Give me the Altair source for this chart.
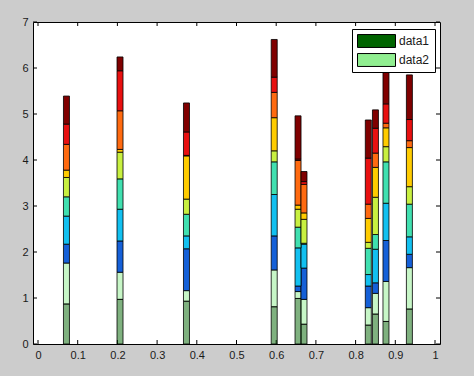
import altair as alt
import pandas as pd

# Bar positions (x) and stacked segment heights per series
positions = [0.0717, 0.2066, 0.374, 0.595, 0.655, 0.670, 0.832, 0.850, 0.8765, 0.9355]

s1  = [0.87, 0.97, 0.93, 0.81, 0.99, 0.43, 0.41, 0.65, 0.49, 0.76]
s2  = [0.89, 0.59, 0.23, 0.80, 0.15, 0.54, 0.38, 0.45, 0.87, 0.90]
s3  = [0.41, 0.68, 0.91, 0.74, 0.12, 0.68, 0.47, 0.23, 0.89, 0.29]
s4  = [0.61, 0.69, 0.28, 0.90, 0.83, 0.52, 0.25, 0.73, 0.81, 0.38]
s5  = [0.42, 0.66, 0.47, 0.71, 0.45, 0.02, 0.57, 0.32, 0.90, 0.71]
s6  = [0.42, 0.58, 0.33, 0.24, 0.39, 0.52, 0.13, 0.81, 0.33, 0.38]
s7  = [0.16, 0.06, 0.94, 0.72, 0.09, 0.14, 0.52, 0.65, 0.41, 0.85]
s8  = [0.56, 0.84, 0.01, 0.55, 0.97, 0.62, 0.31, 0.31, 0.10, 0.15]
s9  = [0.44, 0.87, 0.51, 0.33, 0.03, 0.06, 1.00, 0.54, 0.42, 0.46]
s10 = [0.61, 0.30, 0.63, 0.82, 0.94, 0.22, 0.83, 0.40, 0.75, 0.97]

series_values = [s1, s2, s3, s4, s5, s6, s7, s8, s9, s10]
series_names = ["data%d" % (i + 1) for i in range(10)]
series_colors = ["#006400", "#90ee90", "#1560d8", "#12c0f0", "#40e0b0",
                 "#c8f040", "#ffcc00", "#ff6a10", "#e81010", "#800000"]

x_ticks = [0, 0.1, 0.2, 0.3, 0.4, 0.5, 0.6, 0.7, 0.8, 0.9, 1]
y_ticks = [0, 1, 2, 3, 4, 5, 6, 7]

rows = []
for k, (name, vals) in enumerate(zip(series_names, series_values)):
    for p, v in zip(positions, vals):
        rows.append({"pos": p, "val": v, "series": name, "idx": k})
df = pd.DataFrame(rows)

W, H = 407, 322
TL = 4
font = "Liberation Sans"

xscale = alt.Scale(domain=[0, 1], nice=False, zero=False)
yscale = alt.Scale(domain=[0, 7], nice=False, zero=False)

xaxis = alt.Axis(title=None, values=x_ticks, format="~g", ticks=False,
                 domain=False, grid=False, labelPadding=5,
                 labelFontSize=11, labelFont=font, labelColor="#1a1a1a")
yaxis = alt.Axis(title=None, values=y_ticks, format="d", ticks=False,
                 domain=False, grid=False, labelPadding=5,
                 labelFontSize=11, labelFont=font, labelColor="#1a1a1a")

bars = alt.Chart(df).mark_bar(size=6, stroke="black", strokeWidth=0.8).encode(
    x=alt.X("pos:Q", scale=xscale, axis=xaxis),
    y=alt.Y("val:Q", stack="zero", scale=yscale, axis=yaxis),
    color=alt.Color("series:N",
                    scale=alt.Scale(domain=series_names, range=series_colors),
                    legend=alt.Legend(title=None, values=["data1", "data2"],
                                      orient="none", legendX=319, legendY=7,
                                      symbolType="M-1,-0.34L1,-0.34L1,0.34L-1,0.34Z",
                                      symbolSize=1444, clipHeight=14,
                                      symbolStrokeColor="black", symbolStrokeWidth=1,
                                      symbolOpacity=1,
                                      labelFont=font, labelFontSize=12, labelColor="#1a1a1a",
                                      labelOffset=3, padding=5, rowPadding=5,
                                      strokeColor="black", fillColor="white")),
    order=alt.Order("idx:Q", sort="ascending"),
    fillOpacity=alt.condition("datum.series == 'data1' || datum.series == 'data2'",
                              alt.value(0.5), alt.value(1)),
)

xt = pd.DataFrame({"pos": x_ticks})
yt = pd.DataFrame({"val": y_ticks})

bottom_ticks = alt.Chart(xt).mark_rule(color="black", strokeWidth=1).encode(
    x=alt.X("pos:Q", scale=xscale, axis=xaxis), y=alt.value(H), y2=alt.value(H - TL))
top_ticks = alt.Chart(xt).mark_rule(color="black", strokeWidth=1).encode(
    x=alt.X("pos:Q", scale=xscale, axis=xaxis), y=alt.value(0), y2=alt.value(TL))
left_ticks = alt.Chart(yt).mark_rule(color="black", strokeWidth=1).encode(
    y=alt.Y("val:Q", scale=yscale, axis=yaxis), x=alt.value(0), x2=alt.value(TL))
right_ticks = alt.Chart(yt).mark_rule(color="black", strokeWidth=1).encode(
    y=alt.Y("val:Q", scale=yscale, axis=yaxis), x=alt.value(W), x2=alt.value(W - TL))

chart = alt.layer(bottom_ticks, top_ticks, left_ticks, right_ticks, bars).properties(
    width=W, height=H,
    autosize=alt.AutoSizeParams(type="none"),
    padding={"left": 33, "top": 22, "right": 34, "bottom": 32},
    background="#cccccc",
).configure_view(fill="white", stroke="black", strokeWidth=1)

chart.save("out.html", embed_options={"renderer": "svg", "actions": False})
